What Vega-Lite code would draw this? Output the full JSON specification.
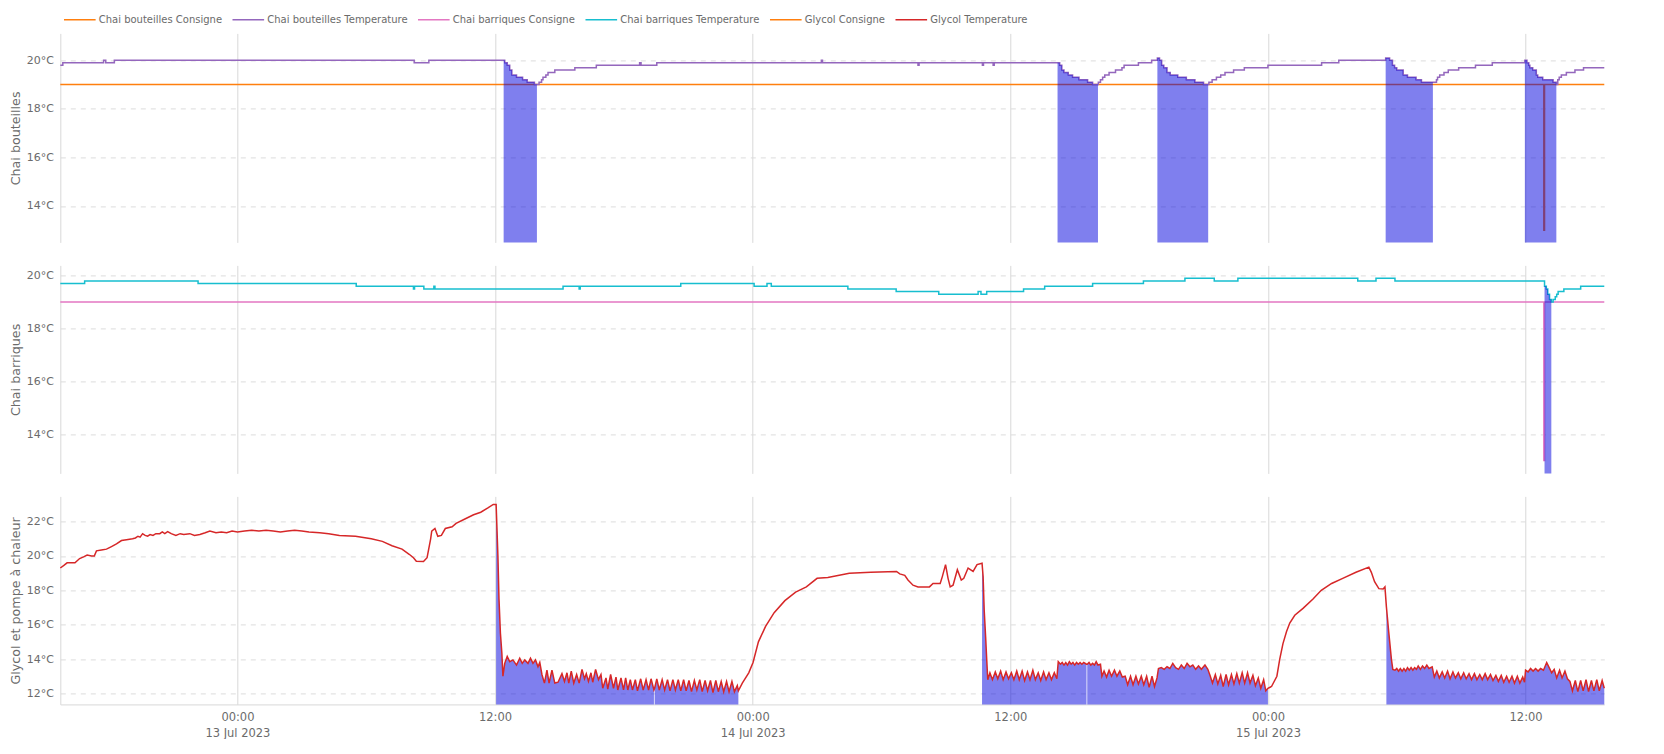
{
"$schema":"https://vega.github.io/schema/vega-lite/v6.json",
"padding":{"left":8.3,"top":2.4,"right":0,"bottom":0},
"spacing":23,
"config":{
 "font":"DejaVu Sans",
 "view":{"stroke":null},
 "axis":{"labelFont":"DejaVu Sans","labelColor":"#6b6b6b","labelFontSize":11,"titleFont":"DejaVu Sans","titleColor":"#6b6b6b","titleFontWeight":"normal","titleFontSize":12.7,"ticks":false,"domainColor":"#d8d8d8","labelPadding":7,"titlePadding":4}
},
"datasets":{
"consigne":[{"t":"2023-07-12T15:45","v":19.0},{"t":"2023-07-15T12:51","v":13.0},{"t":"2023-07-15T12:53","v":19.0},{"t":"2023-07-15T15:40","v":19.0}],
"bouteilles":[
{"t":"2023-07-12T15:45","v":19.8},{"t":"2023-07-12T15:52","v":19.9},{"t":"2023-07-12T17:46","v":20.0},{"t":"2023-07-12T17:52","v":19.9},{"t":"2023-07-12T18:16","v":20.0},{"t":"2023-07-13T08:14","v":19.9},{"t":"2023-07-13T08:55","v":20.0},
{"t":"2023-07-13T12:24","v":20.0,"pompe":1},{"t":"2023-07-13T12:27","v":19.9,"pompe":1},{"t":"2023-07-13T12:34","v":19.8,"pompe":1},{"t":"2023-07-13T12:41","v":19.6,"pompe":1},{"t":"2023-07-13T12:47","v":19.4,"pompe":1},{"t":"2023-07-13T13:00","v":19.3,"pompe":1},{"t":"2023-07-13T13:17","v":19.2,"pompe":1},{"t":"2023-07-13T13:30","v":19.1,"pompe":1},{"t":"2023-07-13T13:50","v":19.0,"pompe":1},{"t":"2023-07-13T13:57","v":19.0,"pompe":1},
{"t":"2023-07-13T14:03","v":19.1},{"t":"2023-07-13T14:10","v":19.2},{"t":"2023-07-13T14:14","v":19.3},{"t":"2023-07-13T14:22","v":19.4},{"t":"2023-07-13T14:28","v":19.5},{"t":"2023-07-13T14:47","v":19.6},{"t":"2023-07-13T15:43","v":19.7},{"t":"2023-07-13T16:43","v":19.8},{"t":"2023-07-13T18:44","v":19.9},{"t":"2023-07-13T18:48","v":19.8},{"t":"2023-07-13T19:32","v":19.9},
{"t":"2023-07-14T03:12","v":20.0},{"t":"2023-07-14T03:15","v":19.9},{"t":"2023-07-14T07:42","v":19.8},{"t":"2023-07-14T07:45","v":19.9},{"t":"2023-07-14T10:42","v":19.8},{"t":"2023-07-14T10:45","v":19.9},{"t":"2023-07-14T11:12","v":19.8},{"t":"2023-07-14T11:15","v":19.9},
{"t":"2023-07-14T14:12","v":19.9,"pompe":2},{"t":"2023-07-14T14:18","v":19.8,"pompe":2},{"t":"2023-07-14T14:24","v":19.6,"pompe":2},{"t":"2023-07-14T14:30","v":19.5,"pompe":2},{"t":"2023-07-14T14:42","v":19.4,"pompe":2},{"t":"2023-07-14T14:54","v":19.3,"pompe":2},{"t":"2023-07-14T15:12","v":19.2,"pompe":2},{"t":"2023-07-14T15:36","v":19.1,"pompe":2},{"t":"2023-07-14T15:50","v":19.0,"pompe":2},{"t":"2023-07-14T16:05","v":19.0,"pompe":2},
{"t":"2023-07-14T16:06","v":19.1},{"t":"2023-07-14T16:12","v":19.2},{"t":"2023-07-14T16:18","v":19.3},{"t":"2023-07-14T16:24","v":19.4},{"t":"2023-07-14T16:36","v":19.5},{"t":"2023-07-14T16:54","v":19.6},{"t":"2023-07-14T17:12","v":19.7},{"t":"2023-07-14T17:18","v":19.8},{"t":"2023-07-14T17:58","v":19.9},{"t":"2023-07-14T18:35","v":20.0},
{"t":"2023-07-14T18:51","v":20.1,"pompe":3},{"t":"2023-07-14T18:57","v":20.0,"pompe":3},{"t":"2023-07-14T19:03","v":19.8,"pompe":3},{"t":"2023-07-14T19:09","v":19.7,"pompe":3},{"t":"2023-07-14T19:18","v":19.5,"pompe":3},{"t":"2023-07-14T19:27","v":19.4,"pompe":3},{"t":"2023-07-14T19:48","v":19.3,"pompe":3},{"t":"2023-07-14T20:12","v":19.2,"pompe":3},{"t":"2023-07-14T20:36","v":19.1,"pompe":3},{"t":"2023-07-14T21:00","v":19.0,"pompe":3},{"t":"2023-07-14T21:13","v":19.0,"pompe":3},
{"t":"2023-07-14T21:15","v":19.1},{"t":"2023-07-14T21:24","v":19.2},{"t":"2023-07-14T21:36","v":19.3},{"t":"2023-07-14T21:48","v":19.4},{"t":"2023-07-14T22:00","v":19.5},{"t":"2023-07-14T22:24","v":19.6},{"t":"2023-07-14T22:54","v":19.7},{"t":"2023-07-15T00:00","v":19.8},{"t":"2023-07-15T02:30","v":19.9},{"t":"2023-07-15T03:18","v":20.0},
{"t":"2023-07-15T05:29","v":20.1,"pompe":4},{"t":"2023-07-15T05:40","v":20.0,"pompe":4},{"t":"2023-07-15T05:48","v":19.8,"pompe":4},{"t":"2023-07-15T05:54","v":19.7,"pompe":4},{"t":"2023-07-15T06:00","v":19.6,"pompe":4},{"t":"2023-07-15T06:18","v":19.4,"pompe":4},{"t":"2023-07-15T06:30","v":19.3,"pompe":4},{"t":"2023-07-15T06:54","v":19.2,"pompe":4},{"t":"2023-07-15T07:09","v":19.1,"pompe":4},{"t":"2023-07-15T07:41","v":19.1,"pompe":4},
{"t":"2023-07-15T07:46","v":19.1},{"t":"2023-07-15T07:51","v":19.2},{"t":"2023-07-15T07:54","v":19.3},{"t":"2023-07-15T08:00","v":19.4},{"t":"2023-07-15T08:12","v":19.5},{"t":"2023-07-15T08:24","v":19.6},{"t":"2023-07-15T08:53","v":19.7},{"t":"2023-07-15T09:40","v":19.8},{"t":"2023-07-15T10:27","v":19.9},
{"t":"2023-07-15T11:58","v":20.0,"pompe":5},{"t":"2023-07-15T12:04","v":19.9,"pompe":5},{"t":"2023-07-15T12:09","v":19.8,"pompe":5},{"t":"2023-07-15T12:12","v":19.7,"pompe":5},{"t":"2023-07-15T12:20","v":19.6,"pompe":5},{"t":"2023-07-15T12:30","v":19.4,"pompe":5},{"t":"2023-07-15T12:34","v":19.3,"pompe":5},{"t":"2023-07-15T12:48","v":19.2,"pompe":5},{"t":"2023-07-15T13:17","v":19.1,"pompe":5},{"t":"2023-07-15T13:26","v":19.0,"pompe":5},
{"t":"2023-07-15T13:30","v":19.2},{"t":"2023-07-15T13:34","v":19.3},{"t":"2023-07-15T13:40","v":19.4},{"t":"2023-07-15T13:54","v":19.5},{"t":"2023-07-15T14:18","v":19.6},{"t":"2023-07-15T14:42","v":19.7},{"t":"2023-07-15T15:40","v":19.7}
],
"barriques":[
{"t":"2023-07-12T15:45","v":19.7},{"t":"2023-07-12T16:53","v":19.8},{"t":"2023-07-12T22:10","v":19.7},{"t":"2023-07-13T05:32","v":19.6},{"t":"2023-07-13T08:12","v":19.5},{"t":"2023-07-13T08:15","v":19.6},{"t":"2023-07-13T08:41","v":19.5},{"t":"2023-07-13T09:09","v":19.6},{"t":"2023-07-13T09:12","v":19.5},{"t":"2023-07-13T15:10","v":19.6},{"t":"2023-07-13T15:55","v":19.5},{"t":"2023-07-13T15:58","v":19.6},{"t":"2023-07-13T20:39","v":19.7},{"t":"2023-07-14T00:04","v":19.6},{"t":"2023-07-14T00:40","v":19.7},{"t":"2023-07-14T00:52","v":19.6},{"t":"2023-07-14T04:26","v":19.5},{"t":"2023-07-14T06:41","v":19.4},{"t":"2023-07-14T08:40","v":19.3},{"t":"2023-07-14T10:30","v":19.4},{"t":"2023-07-14T10:38","v":19.3},{"t":"2023-07-14T10:54","v":19.4},{"t":"2023-07-14T12:37","v":19.5},{"t":"2023-07-14T13:36","v":19.6},{"t":"2023-07-14T15:50","v":19.7},{"t":"2023-07-14T18:12","v":19.8},{"t":"2023-07-14T20:08","v":19.9},{"t":"2023-07-14T21:30","v":19.8},{"t":"2023-07-14T22:36","v":19.9},{"t":"2023-07-15T04:11","v":19.8},{"t":"2023-07-15T05:02","v":19.9},{"t":"2023-07-15T05:55","v":19.8},
{"t":"2023-07-15T12:53","v":19.6,"pompe":1},{"t":"2023-07-15T12:58","v":19.5,"pompe":1},{"t":"2023-07-15T13:02","v":19.3,"pompe":1},{"t":"2023-07-15T13:07","v":19.1,"pompe":1},{"t":"2023-07-15T13:12","v":19.0,"pompe":1},
{"t":"2023-07-15T13:17","v":19.1},{"t":"2023-07-15T13:23","v":19.2},{"t":"2023-07-15T13:27","v":19.3},{"t":"2023-07-15T13:31","v":19.4},{"t":"2023-07-15T13:47","v":19.5},{"t":"2023-07-15T14:34","v":19.6},{"t":"2023-07-15T15:40","v":19.6}
],
"glycol":[
{"t":"2023-07-12T15:45","v":19.3},{"t":"2023-07-12T15:55","v":19.45},{"t":"2023-07-12T16:04","v":19.6},{"t":"2023-07-12T16:14","v":19.6},{"t":"2023-07-12T16:26","v":19.6},{"t":"2023-07-12T16:39","v":19.85},{"t":"2023-07-12T16:50","v":19.95},{"t":"2023-07-12T17:00","v":20.05},{"t":"2023-07-12T17:12","v":20.0},{"t":"2023-07-12T17:20","v":20.0},{"t":"2023-07-12T17:26","v":20.3},{"t":"2023-07-12T17:40","v":20.35},{"t":"2023-07-12T17:54","v":20.4},{"t":"2023-07-12T18:08","v":20.55},{"t":"2023-07-12T18:22","v":20.7},{"t":"2023-07-12T18:36","v":20.9},{"t":"2023-07-12T18:50","v":20.95},{"t":"2023-07-12T19:07","v":21.0},{"t":"2023-07-12T19:15","v":21.05},{"t":"2023-07-12T19:22","v":21.15},{"t":"2023-07-12T19:28","v":21.1},{"t":"2023-07-12T19:35","v":21.3},{"t":"2023-07-12T19:42","v":21.2},{"t":"2023-07-12T19:49","v":21.15},{"t":"2023-07-12T19:56","v":21.25},{"t":"2023-07-12T20:04","v":21.2},{"t":"2023-07-12T20:12","v":21.3},{"t":"2023-07-12T20:23","v":21.3},{"t":"2023-07-12T20:30","v":21.4},{"t":"2023-07-12T20:37","v":21.3},{"t":"2023-07-12T20:45","v":21.42},{"t":"2023-07-12T20:55","v":21.3},{"t":"2023-07-12T21:08","v":21.2},{"t":"2023-07-12T21:20","v":21.3},{"t":"2023-07-12T21:30","v":21.25},{"t":"2023-07-12T21:47","v":21.3},{"t":"2023-07-12T22:00","v":21.2},{"t":"2023-07-12T22:15","v":21.25},{"t":"2023-07-12T22:30","v":21.35},{"t":"2023-07-12T22:43","v":21.45},{"t":"2023-07-12T23:00","v":21.35},{"t":"2023-07-12T23:15","v":21.4},{"t":"2023-07-12T23:30","v":21.35},{"t":"2023-07-12T23:45","v":21.45},
{"t":"2023-07-13T00:00","v":21.4},{"t":"2023-07-13T00:20","v":21.45},{"t":"2023-07-13T00:40","v":21.5},{"t":"2023-07-13T01:00","v":21.45},{"t":"2023-07-13T01:20","v":21.5},{"t":"2023-07-13T01:40","v":21.45},{"t":"2023-07-13T02:00","v":21.4},{"t":"2023-07-13T02:20","v":21.45},{"t":"2023-07-13T02:40","v":21.5},{"t":"2023-07-13T03:00","v":21.45},{"t":"2023-07-13T03:20","v":21.4},{"t":"2023-07-13T03:50","v":21.35},{"t":"2023-07-13T04:15","v":21.3},{"t":"2023-07-13T04:45","v":21.2},{"t":"2023-07-13T05:30","v":21.15},{"t":"2023-07-13T06:14","v":21.0},{"t":"2023-07-13T06:45","v":20.85},{"t":"2023-07-13T07:12","v":20.6},{"t":"2023-07-13T07:40","v":20.4},{"t":"2023-07-13T08:00","v":20.1},{"t":"2023-07-13T08:12","v":19.9},{"t":"2023-07-13T08:20","v":19.7},{"t":"2023-07-13T08:40","v":19.68},{"t":"2023-07-13T08:50","v":19.9},{"t":"2023-07-13T09:00","v":21.0},{"t":"2023-07-13T09:03","v":21.45},{"t":"2023-07-13T09:12","v":21.6},{"t":"2023-07-13T09:20","v":21.15},{"t":"2023-07-13T09:30","v":21.2},{"t":"2023-07-13T09:41","v":21.6},{"t":"2023-07-13T10:00","v":21.7},{"t":"2023-07-13T10:11","v":21.9},{"t":"2023-07-13T10:40","v":22.2},{"t":"2023-07-13T11:00","v":22.4},{"t":"2023-07-13T11:20","v":22.55},{"t":"2023-07-13T11:40","v":22.8},{"t":"2023-07-13T11:55","v":23.0},
{"t":"2023-07-13T12:03","v":23.0,"pompe":1},{"t":"2023-07-13T12:08","v":20.0,"pompe":1},{"t":"2023-07-13T12:11","v":17.5,"pompe":1},{"t":"2023-07-13T12:15","v":15.5,"pompe":1},{"t":"2023-07-13T12:19","v":14.35,"pompe":1},{"t":"2023-07-13T12:22","v":13.0,"pompe":1},{"t":"2023-07-13T12:27","v":13.75,"pompe":1},{"t":"2023-07-13T12:34","v":14.15,"pompe":1},{"t":"2023-07-13T12:41","v":13.85,"pompe":1},{"t":"2023-07-13T12:50","v":13.95,"pompe":1},{"t":"2023-07-13T13:00","v":13.65,"pompe":1},{"t":"2023-07-13T13:09","v":14.05,"pompe":1},{"t":"2023-07-13T13:16","v":13.75,"pompe":1},{"t":"2023-07-13T13:23","v":13.95,"pompe":1},{"t":"2023-07-13T13:32","v":13.75,"pompe":1},{"t":"2023-07-13T13:39","v":14.05,"pompe":1},{"t":"2023-07-13T13:46","v":13.75,"pompe":1},{"t":"2023-07-13T13:53","v":13.95,"pompe":1},{"t":"2023-07-13T14:00","v":13.55,"pompe":1},{"t":"2023-07-13T14:05","v":13.8,"pompe":1},{"t":"2023-07-13T14:11","v":13.1,"pompe":1},{"t":"2023-07-13T14:18","v":12.6,"pompe":1},{"t":"2023-07-13T14:25","v":13.35,"pompe":1},{"t":"2023-07-13T14:31","v":12.6,"pompe":1},{"t":"2023-07-13T14:39","v":13.35,"pompe":1},{"t":"2023-07-13T14:47","v":12.6,"pompe":1},{"t":"2023-07-13T14:56","v":12.65,"pompe":1},{"t":"2023-07-13T15:07","v":13.15,"pompe":1},{"t":"2023-07-13T15:14","v":12.7,"pompe":1},{"t":"2023-07-13T15:21","v":13.2,"pompe":1},{"t":"2023-07-13T15:26","v":12.6,"pompe":1},{"t":"2023-07-13T15:33","v":13.3,"pompe":1},{"t":"2023-07-13T15:40","v":12.6,"pompe":1},{"t":"2023-07-13T15:48","v":13.1,"pompe":1},{"t":"2023-07-13T15:55","v":12.6,"pompe":1},{"t":"2023-07-13T16:03","v":13.4,"pompe":1},{"t":"2023-07-13T16:10","v":12.85,"pompe":1},{"t":"2023-07-13T16:15","v":13.15,"pompe":1},{"t":"2023-07-13T16:21","v":12.7,"pompe":1},{"t":"2023-07-13T16:28","v":13.2,"pompe":1},{"t":"2023-07-13T16:33","v":12.65,"pompe":1},{"t":"2023-07-13T16:41","v":13.4,"pompe":1},{"t":"2023-07-13T16:49","v":12.8,"pompe":1},{"t":"2023-07-13T16:56","v":13.1,"pompe":1},{"t":"2023-07-13T17:01","v":12.3,"pompe":1},{"t":"2023-07-13T17:10","v":12.9,"pompe":1},{"t":"2023-07-13T17:15","v":12.25,"pompe":1},{"t":"2023-07-13T17:23","v":13.1,"pompe":1},{"t":"2023-07-13T17:31","v":12.3,"pompe":1},{"t":"2023-07-13T17:38","v":12.95,"pompe":1},{"t":"2023-07-13T17:43","v":12.2,"pompe":1},{"t":"2023-07-13T17:52","v":12.9,"pompe":1},{"t":"2023-07-13T17:59","v":12.2,"pompe":1},{"t":"2023-07-13T18:05","v":12.9,"pompe":1},{"t":"2023-07-13T18:11","v":12.2,"pompe":1},{"t":"2023-07-13T18:18","v":12.8,"pompe":1},{"t":"2023-07-13T18:24","v":12.2,"pompe":1},{"t":"2023-07-13T18:32","v":12.8,"pompe":1},{"t":"2023-07-13T18:38","v":12.15,"pompe":1},{"t":"2023-07-13T18:47","v":12.85,"pompe":1},{"t":"2023-07-13T18:54","v":12.2,"pompe":1},{"t":"2023-07-13T19:02","v":12.8,"pompe":1},{"t":"2023-07-13T19:09","v":12.2,"pompe":1},{"t":"2023-07-13T19:16","v":12.85,"pompe":1},{"t":"2023-07-13T19:24","v":12.2,"pompe":1},
{"t":"2023-07-13T19:26","v":12.3,"pompe":2},{"t":"2023-07-13T19:32","v":12.85,"pompe":2},{"t":"2023-07-13T19:39","v":12.2,"pompe":2},{"t":"2023-07-13T19:47","v":12.8,"pompe":2},{"t":"2023-07-13T19:54","v":12.2,"pompe":2},{"t":"2023-07-13T20:02","v":12.8,"pompe":2},{"t":"2023-07-13T20:09","v":12.15,"pompe":2},{"t":"2023-07-13T20:17","v":12.8,"pompe":2},{"t":"2023-07-13T20:24","v":12.2,"pompe":2},{"t":"2023-07-13T20:32","v":12.8,"pompe":2},{"t":"2023-07-13T20:39","v":12.15,"pompe":2},{"t":"2023-07-13T20:47","v":12.8,"pompe":2},{"t":"2023-07-13T20:54","v":12.15,"pompe":2},{"t":"2023-07-13T21:02","v":12.75,"pompe":2},{"t":"2023-07-13T21:09","v":12.1,"pompe":2},{"t":"2023-07-13T21:17","v":12.75,"pompe":2},{"t":"2023-07-13T21:24","v":12.2,"pompe":2},{"t":"2023-07-13T21:32","v":12.8,"pompe":2},{"t":"2023-07-13T21:39","v":12.1,"pompe":2},{"t":"2023-07-13T21:47","v":12.75,"pompe":2},{"t":"2023-07-13T21:54","v":12.15,"pompe":2},{"t":"2023-07-13T22:02","v":12.75,"pompe":2},{"t":"2023-07-13T22:09","v":12.05,"pompe":2},{"t":"2023-07-13T22:17","v":12.75,"pompe":2},{"t":"2023-07-13T22:24","v":12.1,"pompe":2},{"t":"2023-07-13T22:32","v":12.7,"pompe":2},{"t":"2023-07-13T22:39","v":12.1,"pompe":2},{"t":"2023-07-13T22:47","v":12.7,"pompe":2},{"t":"2023-07-13T22:54","v":12.1,"pompe":2},{"t":"2023-07-13T23:02","v":12.7,"pompe":2},{"t":"2023-07-13T23:09","v":12.1,"pompe":2},{"t":"2023-07-13T23:17","v":12.45,"pompe":2},{"t":"2023-07-13T23:20","v":12.15,"pompe":2},
{"t":"2023-07-13T23:31","v":12.6},{"t":"2023-07-13T23:49","v":13.2},{"t":"2023-07-14T00:01","v":13.8},{"t":"2023-07-14T00:16","v":15.0},{"t":"2023-07-14T00:36","v":15.9},{"t":"2023-07-14T01:00","v":16.7},{"t":"2023-07-14T01:30","v":17.4},{"t":"2023-07-14T02:00","v":17.9},{"t":"2023-07-14T02:30","v":18.2},{"t":"2023-07-14T03:00","v":18.7},{"t":"2023-07-14T03:30","v":18.75},{"t":"2023-07-14T04:30","v":19.0},{"t":"2023-07-14T05:30","v":19.05},{"t":"2023-07-14T06:42","v":19.1},{"t":"2023-07-14T06:51","v":18.96},{"t":"2023-07-14T07:05","v":18.87},{"t":"2023-07-14T07:14","v":18.6},{"t":"2023-07-14T07:28","v":18.3},{"t":"2023-07-14T07:42","v":18.2},{"t":"2023-07-14T08:14","v":18.2},{"t":"2023-07-14T08:24","v":18.4},{"t":"2023-07-14T08:44","v":18.4},{"t":"2023-07-14T08:50","v":18.8},{"t":"2023-07-14T08:59","v":19.5},{"t":"2023-07-14T09:06","v":18.7},{"t":"2023-07-14T09:12","v":18.2},{"t":"2023-07-14T09:20","v":18.3},{"t":"2023-07-14T09:32","v":19.2},{"t":"2023-07-14T09:43","v":18.6},{"t":"2023-07-14T09:50","v":18.7},{"t":"2023-07-14T10:02","v":19.3},{"t":"2023-07-14T10:16","v":19.1},{"t":"2023-07-14T10:27","v":19.5},
{"t":"2023-07-14T10:41","v":19.58,"pompe":3},{"t":"2023-07-14T10:44","v":18.8,"pompe":3},{"t":"2023-07-14T10:47","v":16.85,"pompe":3},{"t":"2023-07-14T10:51","v":15.3,"pompe":3},{"t":"2023-07-14T10:54","v":14.0,"pompe":3},{"t":"2023-07-14T10:57","v":12.8,"pompe":3},{"t":"2023-07-14T11:03","v":13.2,"pompe":3},{"t":"2023-07-14T11:10","v":12.8,"pompe":3},{"t":"2023-07-14T11:18","v":13.25,"pompe":3},{"t":"2023-07-14T11:25","v":12.85,"pompe":3},{"t":"2023-07-14T11:33","v":13.3,"pompe":3},{"t":"2023-07-14T11:40","v":12.8,"pompe":3},{"t":"2023-07-14T11:48","v":13.25,"pompe":3},{"t":"2023-07-14T11:55","v":12.85,"pompe":3},{"t":"2023-07-14T12:03","v":13.2,"pompe":3},{"t":"2023-07-14T12:10","v":12.8,"pompe":3},{"t":"2023-07-14T12:18","v":13.3,"pompe":3},{"t":"2023-07-14T12:25","v":12.8,"pompe":3},{"t":"2023-07-14T12:33","v":13.3,"pompe":3},{"t":"2023-07-14T12:40","v":12.75,"pompe":3},{"t":"2023-07-14T12:48","v":13.25,"pompe":3},{"t":"2023-07-14T12:55","v":12.8,"pompe":3},{"t":"2023-07-14T13:03","v":13.35,"pompe":3},{"t":"2023-07-14T13:10","v":12.8,"pompe":3},{"t":"2023-07-14T13:18","v":13.2,"pompe":3},{"t":"2023-07-14T13:25","v":12.75,"pompe":3},{"t":"2023-07-14T13:33","v":13.25,"pompe":3},{"t":"2023-07-14T13:40","v":12.8,"pompe":3},{"t":"2023-07-14T13:48","v":13.2,"pompe":3},{"t":"2023-07-14T13:55","v":12.8,"pompe":3},{"t":"2023-07-14T14:03","v":13.2,"pompe":3},{"t":"2023-07-14T14:10","v":12.85,"pompe":3},{"t":"2023-07-14T14:14","v":13.85,"pompe":3},{"t":"2023-07-14T14:20","v":13.7,"pompe":3},{"t":"2023-07-14T14:25","v":13.8,"pompe":3},{"t":"2023-07-14T14:30","v":13.65,"pompe":3},{"t":"2023-07-14T14:35","v":13.8,"pompe":3},{"t":"2023-07-14T14:40","v":13.65,"pompe":3},{"t":"2023-07-14T14:45","v":13.85,"pompe":3},{"t":"2023-07-14T14:50","v":13.7,"pompe":3},{"t":"2023-07-14T14:55","v":13.8,"pompe":3},{"t":"2023-07-14T15:00","v":13.65,"pompe":3},{"t":"2023-07-14T15:05","v":13.8,"pompe":3},{"t":"2023-07-14T15:10","v":13.7,"pompe":3},{"t":"2023-07-14T15:15","v":13.8,"pompe":3},{"t":"2023-07-14T15:20","v":13.7,"pompe":3},{"t":"2023-07-14T15:25","v":13.8,"pompe":3},{"t":"2023-07-14T15:33","v":13.7,"pompe":3},
{"t":"2023-07-14T15:35","v":13.7,"pompe":4},{"t":"2023-07-14T15:40","v":13.8,"pompe":4},{"t":"2023-07-14T15:45","v":13.65,"pompe":4},{"t":"2023-07-14T15:50","v":13.75,"pompe":4},{"t":"2023-07-14T15:55","v":13.65,"pompe":4},{"t":"2023-07-14T16:00","v":13.85,"pompe":4},{"t":"2023-07-14T16:05","v":13.65,"pompe":4},{"t":"2023-07-14T16:12","v":13.7,"pompe":4},{"t":"2023-07-14T16:16","v":13.0,"pompe":4},{"t":"2023-07-14T16:22","v":13.3,"pompe":4},{"t":"2023-07-14T16:29","v":12.95,"pompe":4},{"t":"2023-07-14T16:36","v":13.35,"pompe":4},{"t":"2023-07-14T16:43","v":13.0,"pompe":4},{"t":"2023-07-14T16:51","v":13.35,"pompe":4},{"t":"2023-07-14T16:58","v":13.0,"pompe":4},{"t":"2023-07-14T17:06","v":13.3,"pompe":4},{"t":"2023-07-14T17:13","v":12.95,"pompe":4},{"t":"2023-07-14T17:21","v":13.0,"pompe":4},{"t":"2023-07-14T17:28","v":12.5,"pompe":4},{"t":"2023-07-14T17:36","v":13.0,"pompe":4},{"t":"2023-07-14T17:43","v":12.5,"pompe":4},{"t":"2023-07-14T17:51","v":13.0,"pompe":4},{"t":"2023-07-14T17:58","v":12.55,"pompe":4},{"t":"2023-07-14T18:06","v":13.0,"pompe":4},{"t":"2023-07-14T18:13","v":12.5,"pompe":4},{"t":"2023-07-14T18:21","v":13.0,"pompe":4},{"t":"2023-07-14T18:28","v":12.35,"pompe":4},{"t":"2023-07-14T18:36","v":13.0,"pompe":4},{"t":"2023-07-14T18:43","v":12.4,"pompe":4},{"t":"2023-07-14T18:50","v":12.9,"pompe":4},{"t":"2023-07-14T18:54","v":13.45,"pompe":4},{"t":"2023-07-14T19:02","v":13.5,"pompe":4},{"t":"2023-07-14T19:10","v":13.4,"pompe":4},{"t":"2023-07-14T19:18","v":13.55,"pompe":4},{"t":"2023-07-14T19:26","v":13.45,"pompe":4},{"t":"2023-07-14T19:34","v":13.75,"pompe":4},{"t":"2023-07-14T19:42","v":13.5,"pompe":4},{"t":"2023-07-14T19:50","v":13.4,"pompe":4},{"t":"2023-07-14T19:58","v":13.65,"pompe":4},{"t":"2023-07-14T20:06","v":13.45,"pompe":4},{"t":"2023-07-14T20:14","v":13.75,"pompe":4},{"t":"2023-07-14T20:22","v":13.55,"pompe":4},{"t":"2023-07-14T20:30","v":13.65,"pompe":4},{"t":"2023-07-14T20:38","v":13.4,"pompe":4},{"t":"2023-07-14T20:46","v":13.6,"pompe":4},{"t":"2023-07-14T20:54","v":13.4,"pompe":4},{"t":"2023-07-14T21:04","v":13.65,"pompe":4},{"t":"2023-07-14T21:12","v":13.4,"pompe":4},{"t":"2023-07-14T21:18","v":13.05,"pompe":4},{"t":"2023-07-14T21:25","v":12.6,"pompe":4},{"t":"2023-07-14T21:33","v":13.1,"pompe":4},{"t":"2023-07-14T21:40","v":12.55,"pompe":4},{"t":"2023-07-14T21:48","v":13.05,"pompe":4},{"t":"2023-07-14T21:55","v":12.4,"pompe":4},{"t":"2023-07-14T22:03","v":13.1,"pompe":4},{"t":"2023-07-14T22:10","v":12.5,"pompe":4},{"t":"2023-07-14T22:18","v":13.1,"pompe":4},{"t":"2023-07-14T22:25","v":12.55,"pompe":4},{"t":"2023-07-14T22:33","v":13.15,"pompe":4},{"t":"2023-07-14T22:40","v":12.6,"pompe":4},{"t":"2023-07-14T22:48","v":13.2,"pompe":4},{"t":"2023-07-14T22:55","v":12.6,"pompe":4},{"t":"2023-07-14T23:03","v":13.2,"pompe":4},{"t":"2023-07-14T23:10","v":12.6,"pompe":4},{"t":"2023-07-14T23:18","v":13.05,"pompe":4},{"t":"2023-07-14T23:25","v":12.45,"pompe":4},{"t":"2023-07-14T23:33","v":12.9,"pompe":4},{"t":"2023-07-14T23:40","v":12.3,"pompe":4},{"t":"2023-07-14T23:48","v":12.8,"pompe":4},{"t":"2023-07-14T23:54","v":12.15,"pompe":4},{"t":"2023-07-15T00:00","v":12.3,"pompe":4},
{"t":"2023-07-15T00:10","v":12.4},{"t":"2023-07-15T00:25","v":13.0},{"t":"2023-07-15T00:33","v":14.0},{"t":"2023-07-15T00:42","v":14.9},{"t":"2023-07-15T00:52","v":15.6},{"t":"2023-07-15T01:01","v":16.1},{"t":"2023-07-15T01:15","v":16.55},{"t":"2023-07-15T01:38","v":16.95},{"t":"2023-07-15T02:06","v":17.5},{"t":"2023-07-15T02:29","v":18.0},{"t":"2023-07-15T02:58","v":18.4},{"t":"2023-07-15T03:29","v":18.7},{"t":"2023-07-15T04:06","v":19.05},{"t":"2023-07-15T04:42","v":19.35},{"t":"2023-07-15T04:49","v":19.05},{"t":"2023-07-15T04:58","v":18.5},{"t":"2023-07-15T05:10","v":18.1},{"t":"2023-07-15T05:22","v":18.08},{"t":"2023-07-15T05:27","v":18.2},
{"t":"2023-07-15T05:31","v":17.05,"pompe":5},{"t":"2023-07-15T05:37","v":15.7,"pompe":5},{"t":"2023-07-15T05:45","v":14.0,"pompe":5},{"t":"2023-07-15T05:49","v":13.4,"pompe":5},{"t":"2023-07-15T05:55","v":13.35,"pompe":5},{"t":"2023-07-15T06:00","v":13.45,"pompe":5},{"t":"2023-07-15T06:05","v":13.3,"pompe":5},{"t":"2023-07-15T06:10","v":13.45,"pompe":5},{"t":"2023-07-15T06:15","v":13.3,"pompe":5},{"t":"2023-07-15T06:20","v":13.45,"pompe":5},{"t":"2023-07-15T06:25","v":13.3,"pompe":5},{"t":"2023-07-15T06:30","v":13.5,"pompe":5},{"t":"2023-07-15T06:35","v":13.35,"pompe":5},{"t":"2023-07-15T06:40","v":13.5,"pompe":5},{"t":"2023-07-15T06:45","v":13.35,"pompe":5},{"t":"2023-07-15T06:50","v":13.5,"pompe":5},{"t":"2023-07-15T06:55","v":13.4,"pompe":5},{"t":"2023-07-15T07:00","v":13.6,"pompe":5},{"t":"2023-07-15T07:06","v":13.4,"pompe":5},{"t":"2023-07-15T07:12","v":13.6,"pompe":5},{"t":"2023-07-15T07:18","v":13.45,"pompe":5},{"t":"2023-07-15T07:24","v":13.65,"pompe":5},{"t":"2023-07-15T07:30","v":13.45,"pompe":5},{"t":"2023-07-15T07:39","v":13.55,"pompe":5},{"t":"2023-07-15T07:45","v":12.95,"pompe":5},{"t":"2023-07-15T07:52","v":13.3,"pompe":5},{"t":"2023-07-15T07:59","v":12.9,"pompe":5},{"t":"2023-07-15T08:07","v":13.25,"pompe":5},{"t":"2023-07-15T08:14","v":12.9,"pompe":5},{"t":"2023-07-15T08:22","v":13.3,"pompe":5},{"t":"2023-07-15T08:29","v":12.85,"pompe":5},{"t":"2023-07-15T08:37","v":13.25,"pompe":5},{"t":"2023-07-15T08:44","v":12.9,"pompe":5},{"t":"2023-07-15T08:52","v":13.2,"pompe":5},{"t":"2023-07-15T08:59","v":12.85,"pompe":5},{"t":"2023-07-15T09:07","v":13.2,"pompe":5},{"t":"2023-07-15T09:14","v":12.85,"pompe":5},{"t":"2023-07-15T09:22","v":13.15,"pompe":5},{"t":"2023-07-15T09:29","v":12.8,"pompe":5},{"t":"2023-07-15T09:37","v":13.15,"pompe":5},{"t":"2023-07-15T09:44","v":12.8,"pompe":5},{"t":"2023-07-15T09:52","v":13.1,"pompe":5},{"t":"2023-07-15T09:59","v":12.8,"pompe":5},{"t":"2023-07-15T10:07","v":13.15,"pompe":5},{"t":"2023-07-15T10:14","v":12.8,"pompe":5},{"t":"2023-07-15T10:22","v":13.1,"pompe":5},{"t":"2023-07-15T10:29","v":12.75,"pompe":5},{"t":"2023-07-15T10:37","v":13.05,"pompe":5},{"t":"2023-07-15T10:44","v":12.7,"pompe":5},{"t":"2023-07-15T10:52","v":13.05,"pompe":5},{"t":"2023-07-15T10:59","v":12.65,"pompe":5},{"t":"2023-07-15T11:07","v":13.0,"pompe":5},{"t":"2023-07-15T11:14","v":12.65,"pompe":5},{"t":"2023-07-15T11:22","v":13.0,"pompe":5},{"t":"2023-07-15T11:29","v":12.6,"pompe":5},{"t":"2023-07-15T11:37","v":13.0,"pompe":5},{"t":"2023-07-15T11:44","v":12.6,"pompe":5},{"t":"2023-07-15T11:52","v":12.95,"pompe":5},{"t":"2023-07-15T11:57","v":12.65,"pompe":5},{"t":"2023-07-15T12:00","v":13.35,"pompe":5},{"t":"2023-07-15T12:07","v":13.25,"pompe":5},{"t":"2023-07-15T12:14","v":13.45,"pompe":5},{"t":"2023-07-15T12:21","v":13.3,"pompe":5},{"t":"2023-07-15T12:28","v":13.45,"pompe":5},{"t":"2023-07-15T12:35","v":13.3,"pompe":5},{"t":"2023-07-15T12:42","v":13.45,"pompe":5},{"t":"2023-07-15T12:50","v":13.35,"pompe":5},{"t":"2023-07-15T12:59","v":13.8,"pompe":5},{"t":"2023-07-15T13:06","v":13.5,"pompe":5},{"t":"2023-07-15T13:13","v":13.2,"pompe":5},{"t":"2023-07-15T13:20","v":13.4,"pompe":5},{"t":"2023-07-15T13:27","v":12.9,"pompe":5},{"t":"2023-07-15T13:35","v":13.35,"pompe":5},{"t":"2023-07-15T13:42","v":12.9,"pompe":5},{"t":"2023-07-15T13:50","v":13.3,"pompe":5},{"t":"2023-07-15T13:57","v":12.85,"pompe":5},{"t":"2023-07-15T14:04","v":12.7,"pompe":5},{"t":"2023-07-15T14:11","v":12.15,"pompe":5},{"t":"2023-07-15T14:19","v":12.75,"pompe":5},{"t":"2023-07-15T14:26","v":12.1,"pompe":5},{"t":"2023-07-15T14:34","v":12.75,"pompe":5},{"t":"2023-07-15T14:41","v":12.15,"pompe":5},{"t":"2023-07-15T14:49","v":12.8,"pompe":5},{"t":"2023-07-15T14:56","v":12.1,"pompe":5},{"t":"2023-07-15T15:04","v":12.75,"pompe":5},{"t":"2023-07-15T15:11","v":12.15,"pompe":5},{"t":"2023-07-15T15:19","v":12.8,"pompe":5},{"t":"2023-07-15T15:26","v":12.15,"pompe":5},{"t":"2023-07-15T15:34","v":12.75,"pompe":5},{"t":"2023-07-15T15:40","v":12.3,"pompe":5}
]
},
"vconcat":[
{"width":1544,"height":209,
 "layer":[
 {"data":{"name":"consigne"},"mark":{"type":"line","interpolate":"step-after","strokeWidth":1.5},
  "encoding":{
   "x":{"field":"t","type":"temporal","scale":{"nice":false},"axis":{"title":null,"labels":false,"domain":false,"values":[{"year":2023,"month":7,"date":13,"hours":0},{"year":2023,"month":7,"date":13,"hours":12},{"year":2023,"month":7,"date":14,"hours":0},{"year":2023,"month":7,"date":14,"hours":12},{"year":2023,"month":7,"date":15,"hours":0},{"year":2023,"month":7,"date":15,"hours":12}],"grid":true,"gridColor":"#d8d8d8","gridWidth":1}},
   "y":{"field":"v","type":"quantitative","scale":{"domain":[12.5,21.11],"nice":false},"axis":{"title":"Chai bouteilles","values":[14,16,18,20],"labelExpr":"datum.value + '°C'","grid":true,"gridColor":"#dcdcdc","gridDash":[5,5]}},
   "color":{"datum":"Chai bouteilles Consigne","type":"nominal","scale":{"domain":["Chai bouteilles Consigne","Chai bouteilles Temperature","Chai barriques Consigne","Chai barriques Temperature","Glycol Consigne","Glycol Temperature"],"range":["#ff7f0e","#9467bd","#e377c2","#17becf","#ff7f0e","#d62728"]},
    "legend":{"title":null,"orient":"none","legendX":2.5,"legendY":-30.6,"direction":"horizontal","labelFont":"DejaVu Sans","labelFontSize":10,"labelColor":"#6b6b6b","symbolType":"stroke","symbolSize":1000,"symbolStrokeWidth":1.5,"labelOffset":2,"columnPadding":6.5,"padding":0}}
  }},
 {"data":{"name":"bouteilles"},"mark":{"type":"line","interpolate":"step-after","strokeWidth":1.5},
  "encoding":{"x":{"field":"t","type":"temporal"},"y":{"field":"v","type":"quantitative"},"color":{"datum":"Chai bouteilles Temperature","type":"nominal"}}},
 {"data":{"name":"bouteilles"},"transform":[{"filter":"datum.pompe > 0"}],"mark":{"type":"area","interpolate":"step-after","color":"#0000dd","opacity":0.5},
  "encoding":{"x":{"field":"t","type":"temporal"},"y":{"field":"v","type":"quantitative"},"y2":{"datum":12.5},"detail":{"field":"pompe","type":"nominal"}}}
 ]},
{"width":1544,"height":208,
 "layer":[
 {"data":{"name":"consigne"},"mark":{"type":"line","interpolate":"step-after","strokeWidth":1.5},
  "encoding":{
   "x":{"field":"t","type":"temporal","scale":{"nice":false},"axis":{"title":null,"labels":false,"domain":false,"values":[{"year":2023,"month":7,"date":13,"hours":0},{"year":2023,"month":7,"date":13,"hours":12},{"year":2023,"month":7,"date":14,"hours":0},{"year":2023,"month":7,"date":14,"hours":12},{"year":2023,"month":7,"date":15,"hours":0},{"year":2023,"month":7,"date":15,"hours":12}],"grid":true,"gridColor":"#d8d8d8","gridWidth":1}},
   "y":{"field":"v","type":"quantitative","scale":{"domain":[12.51,20.39],"nice":false},"axis":{"title":"Chai barriques","values":[14,16,18,20],"labelExpr":"datum.value + '°C'","grid":true,"gridColor":"#dcdcdc","gridDash":[5,5]}},
   "color":{"datum":"Chai barriques Consigne","type":"nominal","legend":null}
  }},
 {"data":{"name":"barriques"},"mark":{"type":"line","interpolate":"step-after","strokeWidth":1.5},
  "encoding":{"x":{"field":"t","type":"temporal"},"y":{"field":"v","type":"quantitative"},"color":{"datum":"Chai barriques Temperature","type":"nominal","legend":null}}},
 {"data":{"name":"barriques"},"transform":[{"filter":"datum.pompe > 0"}],"mark":{"type":"area","interpolate":"step-after","color":"#0000dd","opacity":0.5},
  "encoding":{"x":{"field":"t","type":"temporal"},"y":{"field":"v","type":"quantitative"},"y2":{"datum":12.51},"detail":{"field":"pompe","type":"nominal"}}}
 ]},
{"width":1544,"height":208,
 "layer":[
 {"data":{"name":"glycol"},"transform":[{"filter":"datum.pompe > 0"}],"mark":{"type":"area","color":"#0000dd","opacity":0.5},
  "encoding":{
   "x":{"field":"t","type":"temporal","scale":{"nice":false},"axis":{"title":null,"values":[{"year":2023,"month":7,"date":13,"hours":0},{"year":2023,"month":7,"date":13,"hours":12},{"year":2023,"month":7,"date":14,"hours":0},{"year":2023,"month":7,"date":14,"hours":12},{"year":2023,"month":7,"date":15,"hours":0},{"year":2023,"month":7,"date":15,"hours":12}],"grid":true,"gridColor":"#d8d8d8","gridWidth":1,"labelLineHeight":16,"labelFontSize":11.5,"labelPadding":7,"labelExpr":"hours(datum.value) == 0 ? [timeFormat(datum.value, '%H:%M'), timeFormat(datum.value, '%-d %b %Y')] : timeFormat(datum.value, '%H:%M')"}},
   "y":{"field":"v","type":"quantitative","scale":{"domain":[11.36,23.47],"nice":false},"axis":{"title":"Glycol et pompe à chaleur","values":[12,14,16,18,20,22],"labelExpr":"datum.value + '°C'","grid":true,"gridColor":"#dcdcdc","gridDash":[5,5]}},
   "y2":{"datum":11.36},
   "detail":{"field":"pompe","type":"nominal"}
  }},
 {"data":{"name":"glycol"},"mark":{"type":"line","strokeWidth":1.5},
  "encoding":{"x":{"field":"t","type":"temporal"},"y":{"field":"v","type":"quantitative"},"color":{"datum":"Glycol Temperature","type":"nominal","legend":null}}}
 ]}
]
}
